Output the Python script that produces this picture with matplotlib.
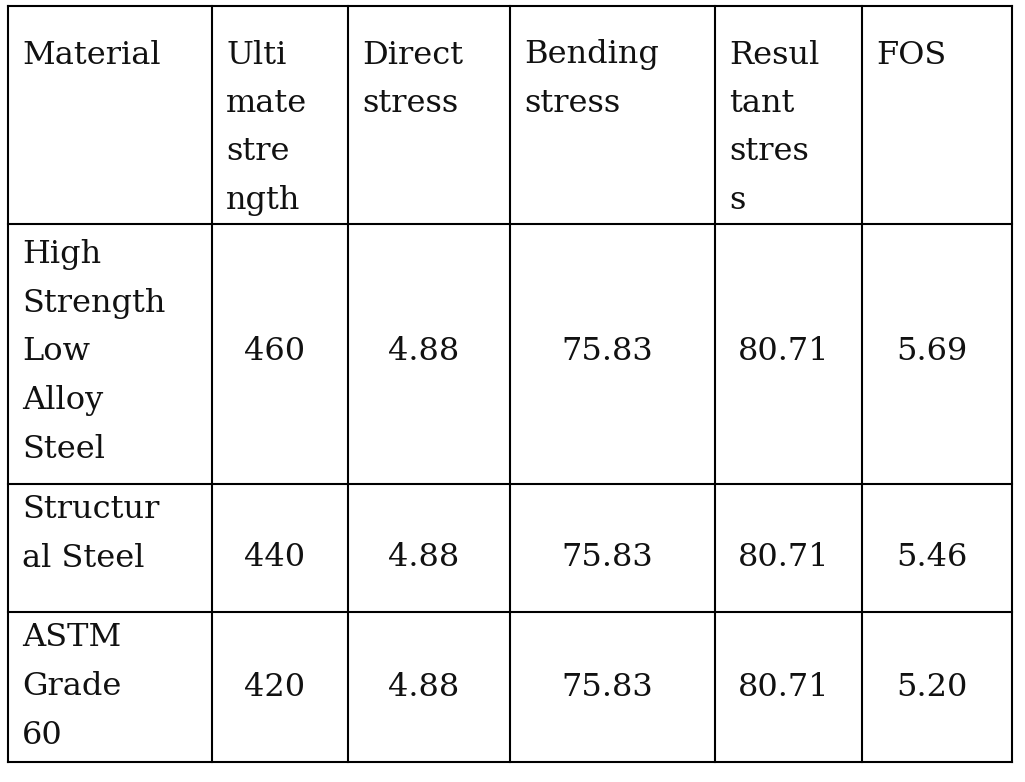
import matplotlib
matplotlib.use("Agg")
import matplotlib.pyplot as plt

headers = [["Material"], ["Ulti", "mate", "stre", "ngth"], ["Direct", "stress"],
           ["Bending", "stress"], ["Resul", "tant", "stres", "s"], ["FOS"]]
materials = [["High", "Strength", "Low", "Alloy", "Steel"], ["Structur", "al Steel"], ["ASTM", "Grade", "60"]]
ultimate = ["460", "440", "420"]
direct = ["4.88", "4.88", "4.88"]
bending = ["75.83", "75.83", "75.83"]
resultant = ["80.71", "80.71", "80.71"]
fos = ["5.69", "5.46", "5.20"]

W, H = 1025, 782
fig = plt.figure(figsize=(W/100, H/100), dpi=100)
ax = fig.add_axes([0, 0, 1, 1])
ax.set_xlim(0, W); ax.set_ylim(H, 0); ax.axis("off")

xs = [8, 212, 348, 510, 715, 862, 1012]
ys = [6, 224, 484, 612, 762]
for x in xs:
    ax.plot([x, x], [ys[0], ys[-1]], color="black", lw=1.5)
for y in ys:
    ax.plot([xs[0], xs[-1]], [y, y], color="black", lw=1.5)

font = dict(family="DejaVu Serif", fontsize=23, color="#111111", va="center")
lh = 48.5
for i, h in enumerate(headers):
    for j, t in enumerate(h):
        ax.text(xs[i] + 14, 55 + j * lh, t, ha="left", **font)

first_line = [255, 510, 638]
val_y = [352, 558, 688]
for r in range(3):
    for j, t in enumerate(materials[r]):
        ax.text(22, first_line[r] + j * lh, t, ha="left", **font)
    vals = [ultimate[r], direct[r], bending[r], resultant[r], fos[r]]
    for c, v in enumerate(vals):
        cx = (xs[c+1] + xs[c+2]) / 2 - 5
        ax.text(cx, val_y[r], v, ha="center", **font)

fig.savefig("out.png", dpi=100)
